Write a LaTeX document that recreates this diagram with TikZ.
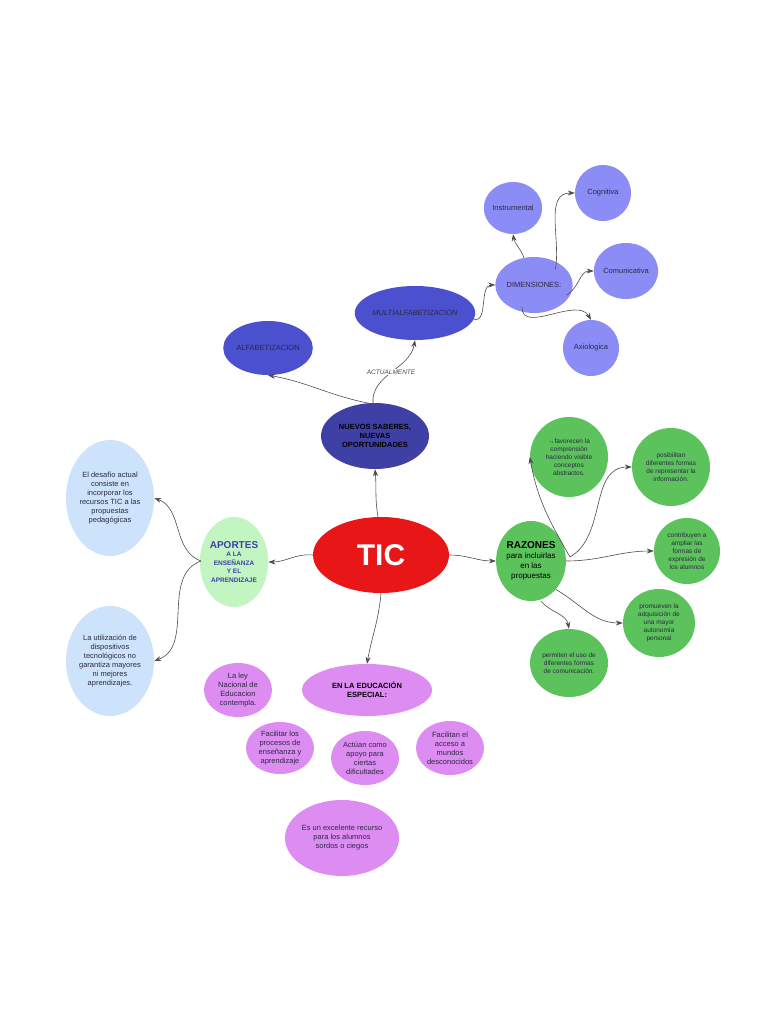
\documentclass[tikz,border=0pt]{standalone}
\usepackage{fontspec}
\setmainfont{Liberation Sans}
\usetikzlibrary{shapes.geometric,arrows.meta}
\definecolor{cred}{HTML}{E81616}
\definecolor{cnavy}{HTML}{3F40A6}
\definecolor{cblue}{HTML}{4B50CF}
\definecolor{clav}{HTML}{8C8CF7}
\definecolor{cmint}{HTML}{C2F5C2}
\definecolor{csky}{HTML}{CDE3FB}
\definecolor{cgreen}{HTML}{5CC25C}
\definecolor{cpink}{HTML}{DD8CF2}
\definecolor{ctxt}{HTML}{2A2A40}
\tikzset{
 bub/.style={ellipse,inner sep=0pt,align=center,font=\fontsize{7}{8.4}\selectfont,text=ctxt},
 conn/.style={-{Stealth[length=7pt,width=5pt]},draw=black!70,line width=0.6pt},
}
\begin{document}
\begin{tikzpicture}[x=1pt,y=-1pt]
\useasboundingbox (0,0) rectangle (768,1024);
\fill[white] (0,0) rectangle (768,1024);
% main
\node[bub,fill=cred,minimum width=136,minimum height=76,text=white,font=\bfseries\fontsize{30}{30}\selectfont] (tic) at (381,555) {TIC};
\node[bub,fill=cnavy,minimum width=108,minimum height=66,text=black,font=\bfseries\fontsize{7.5}{9}\selectfont] (nue) at (375,436) {NUEVOS SABERES,\\NUEVAS\\OPORTUNIDADES};
\node[bub,fill=cblue,minimum width=70,minimum height=54,font=\fontsize{7.5}{9}\selectfont] (alf) at (268,348) {ALFABETIZACION};
\node[bub,fill=cblue,minimum width=68,minimum height=54,font=\itshape\fontsize{7.5}{9}\selectfont] (mul) at (415,313) {MULTIALFABETIZACION};
\node[bub,fill=clav,minimum width=68,minimum height=56,font=\fontsize{7.5}{9}\selectfont] (dim) at (534,285) {DIMENSIONES:};
\node[bub,fill=clav,minimum width=56,minimum height=52,font=\fontsize{7.5}{9}\selectfont] (ins) at (513,208) {Instrumental};
\node[bub,fill=clav,minimum width=56,minimum height=56,font=\fontsize{7.5}{9}\selectfont] (cog) at (603,193) {Cognitiva};
\node[bub,fill=clav,minimum width=56,minimum height=56,font=\fontsize{7.5}{9}\selectfont] (com) at (626,271) {Comunicativa};
\node[bub,fill=clav,minimum width=56,minimum height=56,font=\fontsize{7.5}{9}\selectfont] (axi) at (591,348) {Axiologica};
% aportes
\node[bub,fill=cmint,minimum width=64,minimum height=90,text=cnavy,font=\bfseries\fontsize{6.5}{8.5}\selectfont] (apo) at (234,562) {{\fontsize{10}{11}\selectfont APORTES}\\A LA\\ENSEÑANZA\\Y EL\\APRENDIZAJE};
\node[bub,fill=csky,minimum width=88,minimum height=116,font=\fontsize{7.5}{9}\selectfont] (des) at (110,498) {El desafío actual\\consiste en\\incorporar los\\recursos TIC a las\\propuestas\\pedagógicas};
\node[bub,fill=csky,minimum width=88,minimum height=110,font=\fontsize{7.5}{9}\selectfont] (uti) at (110,661) {La utilización de\\dispositivos\\tecnológicos no\\garantiza mayores\\ni mejores\\aprendizajes.};
% razones
\node[bub,fill=cgreen,minimum width=66,minimum height=80,text=black,font=\fontsize{8}{10}\selectfont] (raz) at (531,561) {{\bfseries\fontsize{10}{11}\selectfont RAZONES}\\para incluirlas\\en las\\propuestas};
\node[bub,fill=cgreen,minimum width=78,minimum height=80,font=\fontsize{6.5}{8}\selectfont] (fav) at (569,457) {→favorecen la\\comprensión\\haciendo visible\\conceptos\\abstractos.};
\node[bub,fill=cgreen,minimum width=78,minimum height=78,font=\fontsize{6.5}{8}\selectfont] (pos) at (671,467) {posibilitan\\diferentes formas\\de representar la\\información.};
\node[bub,fill=cgreen,minimum width=66,minimum height=66,font=\fontsize{6.5}{8}\selectfont] (con) at (687,551) {contribuyen a\\ampliar las\\formas de\\expresión de\\los alumnos};
\node[bub,fill=cgreen,minimum width=72,minimum height=68,font=\fontsize{6.5}{8}\selectfont] (pro) at (659,623) {promueven la\\adquisición de\\una mayor\\autonomía\\personal};
\node[bub,fill=cgreen,minimum width=78,minimum height=68,font=\fontsize{6.5}{8}\selectfont] (per) at (569,663) {permiten el uso de\\diferentes formas\\de comunicación.};
% educacion especial
\node[bub,fill=cpink,minimum width=130,minimum height=52,text=black,font=\bfseries\fontsize{7.5}{9}\selectfont] (edu) at (367,690) {EN LA EDUCACIÓN\\ESPECIAL:};
\node[bub,fill=cpink,minimum width=68,minimum height=54,font=\fontsize{7.5}{9}\selectfont] (ley) at (238,690) {La ley\\Nacional de\\Educacion\\contempla.};
\node[bub,fill=cpink,minimum width=68,minimum height=52,font=\fontsize{7.5}{9}\selectfont] (fac) at (280,748) {Facilitar los\\procesos de\\enseñanza y\\aprendizaje};
\node[bub,fill=cpink,minimum width=68,minimum height=54,font=\fontsize{7.5}{9}\selectfont] (act) at (365,758) {Actúan como\\apoyo para\\ciertas\\dificultades};
\node[bub,fill=cpink,minimum width=68,minimum height=54,font=\fontsize{7.5}{9}\selectfont] (fan) at (450,748) {Facilitan el\\acceso a\\mundos\\desconocidos};
\node[bub,fill=cpink,minimum width=114,minimum height=76,font=\fontsize{7.5}{9}\selectfont] (exc) at (342,838) {Es un excelente recurso\\para los alumnos\\sordos o ciegos};
% connectors
\draw[conn] (tic.north) ++(-3,0) coordinate (t1) to[out=100,in=-85] (nue.south);
\draw[conn] (tic.west) to[out=175,in=0] (apo.east);
\draw[conn] (tic.east) to[out=0,in=180] (raz.west);
\draw[conn] (tic.south) to[out=-95,in=80] (edu.north);
\coordinate (nt) at (373,404);
\draw[conn] (nt) to[out=170,in=-10] (alf.south);
\draw[conn] (nt) to[out=95,in=-100] node[pos=0.5,fill=white,inner sep=1pt,font=\itshape\fontsize{6.5}{8}\selectfont,text=black!70]{ACTUALMENTE} (mul.south);
\draw[conn] (mul.east) ++(-2,6) coordinate (m1) to[out=-20,in=180] (dim.west);
\draw[conn] (dim.north) ++(-10,1) coordinate (d1) to[out=110,in=-80] (ins.south);
\draw[conn] (dim.north east) ++(-6,4) coordinate (d2) to[out=80,in=180] (cog.west);
\draw[conn] (dim.east) ++(-6,10) coordinate (d3) to[out=30,in=180] (com.west);
\draw[conn] (dim.south) ++(-12,-6) coordinate (d4) to[out=-90,in=120] (axi.north);
\coordinate (apl) at (201,561);
\draw[conn] (apl) to[out=160,in=-20] (des.east);
\draw[conn] (apl) to[out=200,in=20] (uti.east);
\coordinate (rz) at (570,557);
\draw[conn] (rz) to[out=120,in=-80] (fav.west);
\draw[conn] (rz) to[out=30,in=180] (pos.west);
\draw[conn] (raz.east) to[out=0,in=180] (con.west);
\draw[conn] (raz.south east) to[out=-30,in=180] (pro.west);
\draw[conn] (raz.south) ++(10,0) coordinate (r5) to[out=-50,in=100] (per.north);
\end{tikzpicture}
\end{document}
